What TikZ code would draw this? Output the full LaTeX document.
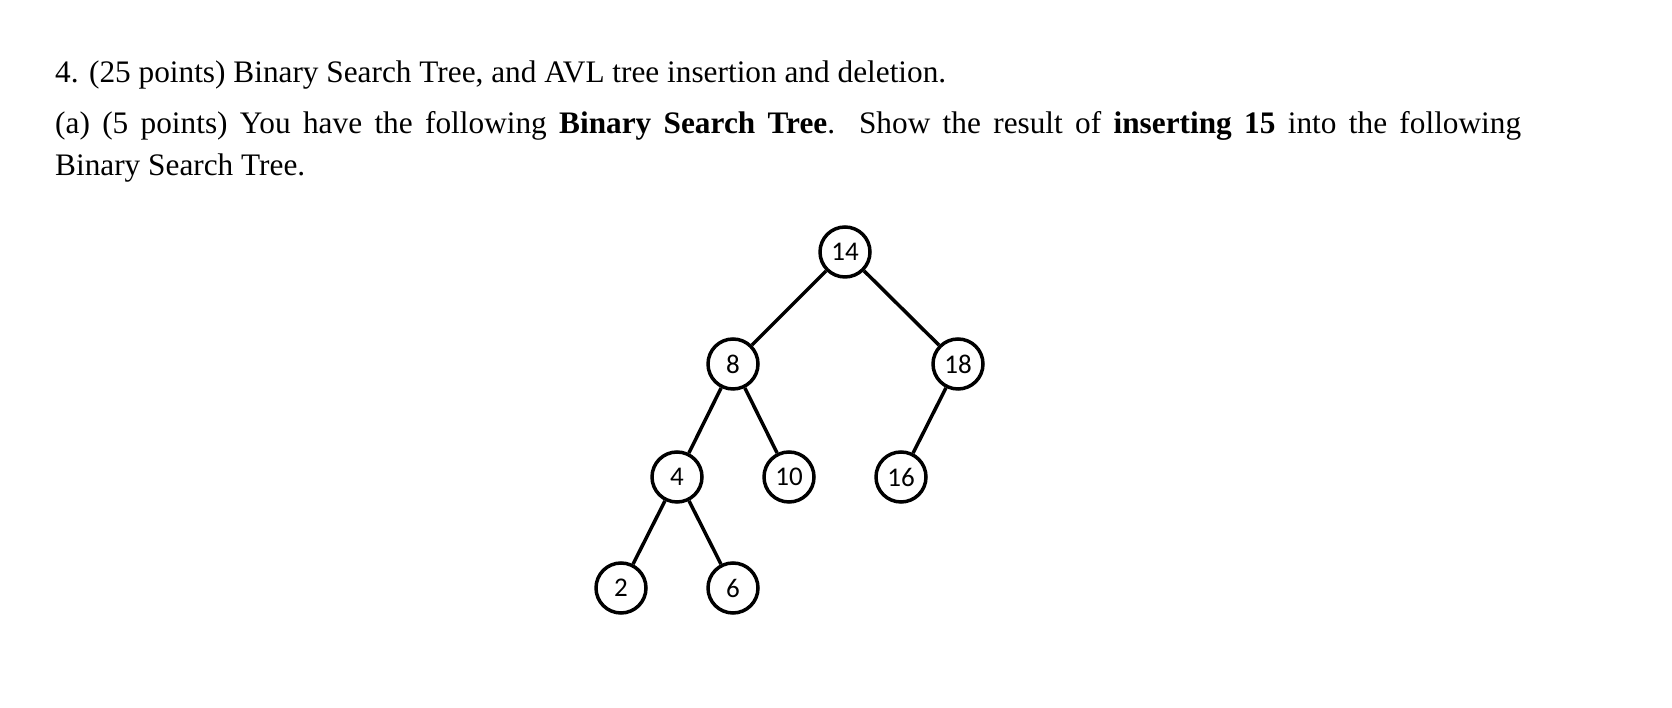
\documentclass[tikz,border=0pt]{standalone}
\usepackage{fontspec}
\setmainfont{Liberation Serif}
\newfontfamily\nodefont{Carlito}
\begin{document}
\begin{tikzpicture}[x=1pt,y=1pt,
  tn/.style={circle,draw,line width=3.5pt,minimum size=50pt,inner sep=0pt,font=\nodefont\fontsize{27}{27}\selectfont},
  ed/.style={line width=3.5pt}]
\useasboundingbox (0,0) rectangle (1672,708);
\node[anchor=base west,inner sep=0pt,font=\fontsize{31.3}{42}\selectfont] (t1) at (55,625) {4. (25 points) Binary Search Tree, and AVL tree insertion and deletion.};
\node[anchor=north west,inner sep=0pt,text width=1466pt,align=justify,font=\fontsize{31.3}{42}\selectfont] (t2) at (55,597) {(a) (5 points) You have the following \textbf{Binary Search Tree}. Show the result of \textbf{inserting 15} into the following\linebreak Binary Search Tree.};
\node[tn] (n14) at (845,456) {14};
\node[tn] (n8) at (733,344) {8};
\node[tn] (n18) at (958,344) {18};
\node[tn] (n4) at (677,231) {4};
\node[tn] (n10) at (789,231) {10};
\node[tn] (n16) at (901,231) {16};
\node[tn] (n2) at (621,120) {2};
\node[tn] (n6) at (733,120) {6};
\draw[ed] (n14)--(n8); \draw[ed] (n14)--(n18);
\draw[ed] (n8)--(n4); \draw[ed] (n8)--(n10);
\draw[ed] (n18)--(n16);
\draw[ed] (n4)--(n2); \draw[ed] (n4)--(n6);
\end{tikzpicture}
\end{document}
